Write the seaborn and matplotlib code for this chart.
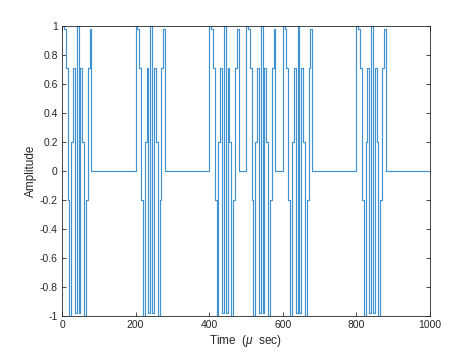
import numpy as np
import pandas as pd
import matplotlib
matplotlib.use("Agg")
import matplotlib.pyplot as plt
import seaborn as sns

# Data
pulse_starts = [0, 200, 400, 500, 600, 800]          # microseconds
chip_width = 5                                        # microseconds
chip_values = [1, 0.98, 0.71, -0.2, -1, 0.2, 0.71, -0.98,
               1, -0.98, 0.71, 0.2, -1, -0.2, 0.71, 0.98]
t_end = 1000
xticks = [0, 200, 400, 600, 800, 1000]
yticks = [-1, -0.8, -0.6, -0.4, -0.2, 0, 0.2, 0.4, 0.6, 0.8, 1]
ytick_labels = ["-1", "-0.8", "-0.6", "-0.4", "-0.2", "0", "0.2", "0.4", "0.6", "0.8", "1"]

# build step points from the chip list
ts, vs = [], []
for s in pulse_starts:
    for i, v in enumerate(chip_values):
        ts.append(s + i * chip_width)
        vs.append(v)
    ts.append(s + len(chip_values) * chip_width)
    vs.append(0)
ts.append(t_end)
vs.append(0)
df = pd.DataFrame({"t": ts, "amp": vs})

sns.set_style("white")
plt.rcParams['font.family'] = ['Liberation Sans', 'DejaVu Sans']
plt.rcParams['mathtext.fontset'] = 'custom'
plt.rcParams['mathtext.it'] = 'Liberation Sans:italic'

fig = plt.figure(figsize=(4.74, 3.55), dpi=100)
ax = fig.add_axes([62/474, 1-316/355, (430-62)/474, (316-26)/355])
sns.lineplot(data=df, x="t", y="amp", ax=ax, estimator=None, sort=False,
             drawstyle="steps-post", color="#3f93d2", linewidth=0.85)

ax.set_xlim(0, 1000)
ax.set_ylim(-1, 1)
ax.set_xticks(xticks)
ax.set_xticklabels([str(x) for x in xticks])
ax.set_yticks(yticks)
ax.set_yticklabels(ytick_labels)
ax.tick_params(direction="in", length=3, width=0.6, colors="#262626",
               labelsize=7.5, top=True, right=True, bottom=True, left=True,
               pad=3)
for sp in ax.spines.values():
    sp.set_visible(True)
    sp.set_color("#262626")
    sp.set_linewidth(0.6)
ax.set_xlabel(r"Time  ($\mu$  sec)", fontsize=8.5, color="#262626", labelpad=2)
ax.set_ylabel("Amplitude", fontsize=8.5, color="#262626", labelpad=2)
fig.savefig("out.png", dpi=100, facecolor="white")
